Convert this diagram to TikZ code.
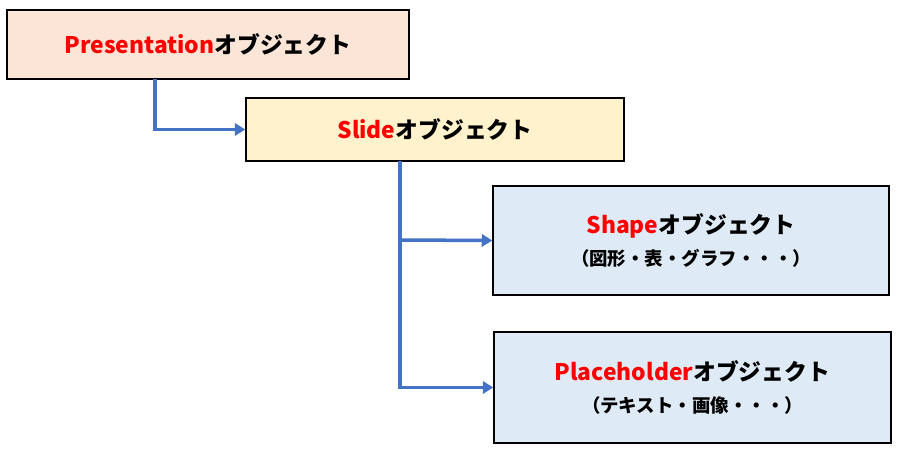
\documentclass[tikz,border=0pt]{standalone}
\usepackage{fontspec}
\setmainfont{Noto Sans CJK JP}
\usetikzlibrary{arrows.meta}
\definecolor{peach}{HTML}{FBE5D6}
\definecolor{cream}{HTML}{FFF2CC}
\definecolor{paleblue}{HTML}{DEEBF7}
\definecolor{linkblue}{HTML}{4472C4}
\tikzset{
	objbox/.style={draw=black, thick, inner sep=0pt, font=\bfseries\fontsize{13}{16}\selectfont, align=center},
	link/.style={draw=linkblue, line width=2pt, -{Triangle[length=6pt,width=7pt]}}
}
\newcommand{\objname}[1]{\textcolor{red}{#1}オブジェクト}
\newcommand{\objnote}[1]{\\[2pt]{\fontsize{10.5}{13}\selectfont #1}}
\begin{document}
\begin{tikzpicture}[x=0.02cm, y=-0.02cm]
		\useasboundingbox (0,0) rectangle (900,451);
		\node[objbox, fill=peach, minimum width=402*0.02cm, minimum height=69*0.02cm] (pres) at (208,44.5) {\objname{Presentation}};
		\node[objbox, fill=cream, minimum width=378*0.02cm, minimum height=63*0.02cm] (slide) at (435,129.5) {\objname{Slide}};
		\node[objbox, fill=paleblue, minimum width=396*0.02cm, minimum height=109*0.02cm] (shape) at (691,240.5) {\objname{Shape}\objnote{（図形・表・グラフ・・・）}};
		\node[objbox, fill=paleblue, minimum width=397*0.02cm, minimum height=111*0.02cm] (holder) at (692.5,387.5) {\objname{Placeholder}\objnote{（テキスト・画像・・・）}};
		
		\coordinate (p) at (155,79);
		\coordinate (s) at (400,161);
		\coordinate (j) at (400,240);
		
		\draw[link] (p) |- (slide.west);
		\draw[link] (s) |- (holder.west);
		\draw[link] (j) -- (shape.west);
	\end{tikzpicture}
\end{document}
